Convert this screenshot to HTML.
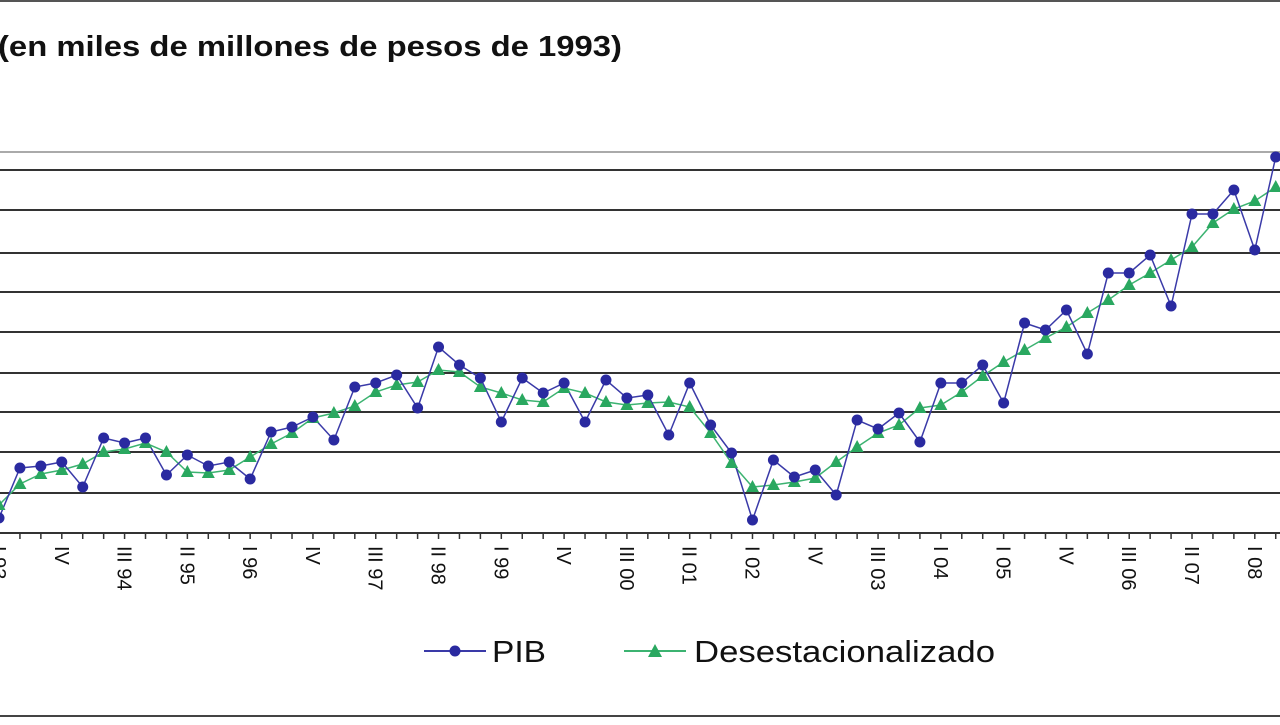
<!DOCTYPE html>
<html><head><meta charset="utf-8"><style>
body{margin:0;background:#fff;width:1280px;height:720px;overflow:hidden;font-family:"Liberation Sans",sans-serif}
</style></head><body>
<svg id="s" width="1280" height="720" xmlns="http://www.w3.org/2000/svg">
<rect width="1280" height="720" fill="#fff"/>
<line x1="0" y1="1" x2="1280" y2="1" stroke="#555" stroke-width="2"/>
<line x1="0" y1="716" x2="1280" y2="716" stroke="#444" stroke-width="2"/>
<text x="-2" y="56" font-size="29" font-weight="bold" fill="#111" textLength="624" lengthAdjust="spacingAndGlyphs">(en miles de millones de pesos de 1993)</text>
<line x1="0" y1="152" x2="1280" y2="152" stroke="#aaa" stroke-width="2"/>
<g id="grid" stroke="#333" stroke-width="2"></g>
<line x1="0" y1="533" x2="1280" y2="533" stroke="#333" stroke-width="2"/>
<g id="ticks" stroke="#333" stroke-width="1.5"></g>
<g id="labs" font-size="20" fill="#111"></g>
<polyline id="gl" fill="none" stroke="#3cb371" stroke-width="1.5"/>
<polyline id="bl" fill="none" stroke="#3a3aa8" stroke-width="1.5"/>
<g id="gm" fill="#2aa860"></g>
<g id="bm" fill="#2a2aa0"></g>
<line x1="424" y1="651" x2="486" y2="651" stroke="#3a3aa8" stroke-width="2"/>
<circle cx="455" cy="651" r="5.5" fill="#2a2aa0"/>
<text x="492" y="662" font-size="31" fill="#111" textLength="54" lengthAdjust="spacingAndGlyphs">PIB</text>
<line x1="624" y1="651" x2="686" y2="651" stroke="#3cb371" stroke-width="2"/>
<polygon points="655,644 662,657 648,657" fill="#2aa860"/>
<text x="694" y="662" font-size="31" fill="#111" textLength="301" lengthAdjust="spacingAndGlyphs">Desestacionalizado</text>
</svg>
<script>
var NS="http://www.w3.org/2000/svg";
function el(t,a,p){var e=document.createElementNS(NS,t);for(var k in a)e.setAttribute(k,a[k]);document.getElementById(p).appendChild(e);return e;}
[170,210,253,292,332,373,412,452,493].forEach(function(y){el("line",{x1:0,y1:y,x2:1280,y2:y},"grid");});
function X(i){return 20.93*i-1;}
for(var i=0;i<63;i++){var x=X(i);el("line",{x1:x,y1:533,x2:x,y2:539},"ticks");}
var b=[518,468,466,462,487,438,443,438,475,455,466,462,479,432,427,417,440,387,383,375,408,347,365,378,422,378,393,383,422,380,398,395,435,383,425,453,520,460,477,470,495,420,429,413,442,383,383,365,403,323,330,310,354,273,273,255,306,214,214,190,250,157];
var g=[505,484,474,470,464,452,449,443,452,472,473,470,457,444,433,418,413,406,392,385,382,370,372,387,393,400,402,388,393,402,405,403,402,407,433,463,487,485,482,478,462,447,433,425,408,405,392,376,362,350,338,327,313,300,285,273,260,247,223,209,201,187];
document.getElementById("bl").setAttribute("points",b.map(function(y,i){return X(i)+","+y;}).join(" "));
document.getElementById("gl").setAttribute("points",g.map(function(y,i){return X(i)+","+y;}).join(" "));
g.forEach(function(y,i){var x=X(i);el("polygon",{points:x+","+(y-7)+" "+(x+6.5)+","+(y+5)+" "+(x-6.5)+","+(y+5)},"gm");});
b.forEach(function(y,i){el("circle",{cx:X(i),cy:y,r:5.5},"bm");});
var labs=["I 93","IV","III 94","II 95","I 96","IV","III 97","II 98","I 99","IV","III 00","II 01","I 02","IV","III 03","I 04","I 05","IV","III 06","II 07","I 08"];
labs.forEach(function(t,k){var x=X(k*3)-7;var e=el("text",{x:0,y:0,transform:"translate("+x+",546) rotate(90)"},"labs");e.textContent=t;});
</script>
</body></html>
